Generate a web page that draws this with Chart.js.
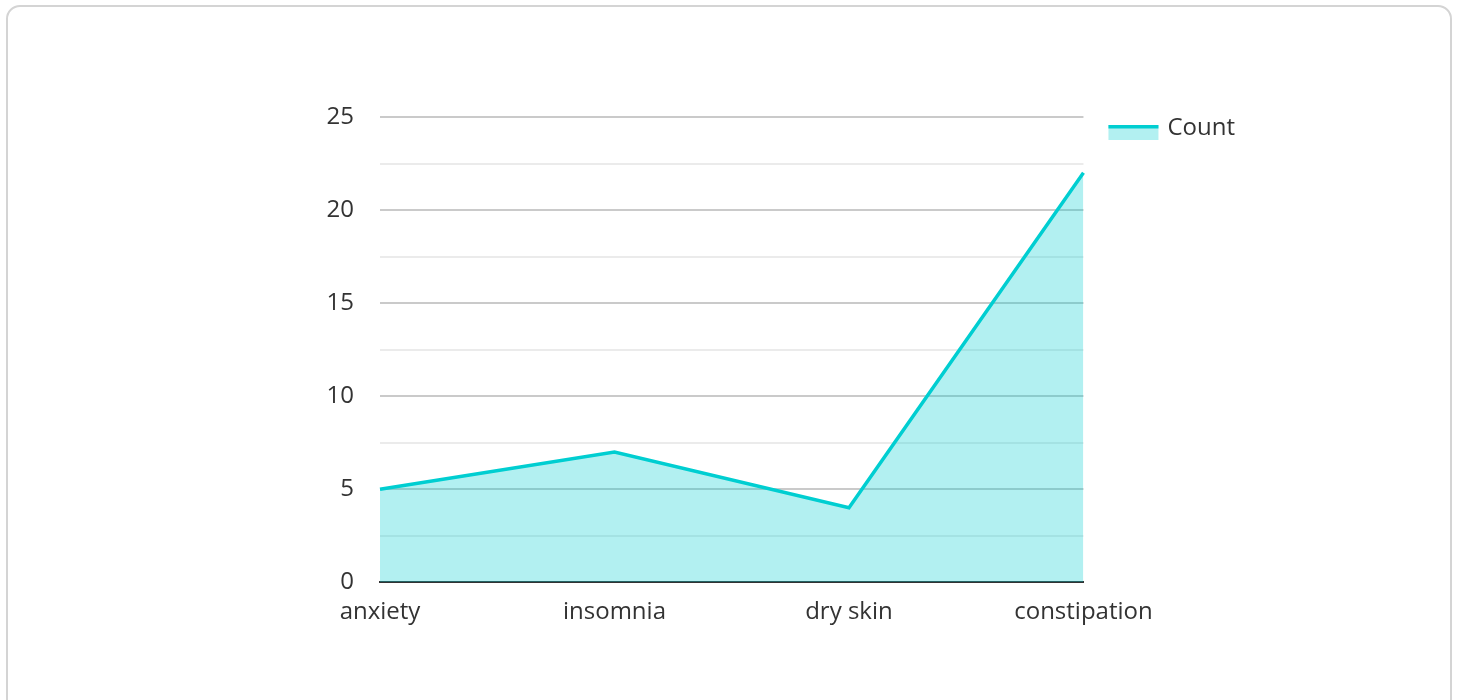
<!DOCTYPE html>
<html>
<head>
<meta charset="utf-8">
<script src="https://cdn.jsdelivr.net/npm/chart.js@4"></script>
<style>
  body { margin: 0; background: #fff; }
  .card {
    position: absolute; left: 6px; top: 5px; width: 1446px; height: 720px;
    border: 2px solid #d4d4d4; border-radius: 14px; box-sizing: border-box;
  }
  #wrap { position: absolute; left: 0; top: 0; width: 1458px; height: 700px; }
</style>
</head>
<body>
<div class="card"></div>
<div id="wrap"><canvas id="symptomChart"></canvas></div>
<script>
  const symptoms = ['anxiety', 'insomnia', 'dry skin', 'constipation'];
  const counts = [5, 7, 4, 22];

  const lineColor = 'rgb(0, 206, 209)';
  const fillColor = 'rgba(0, 206, 209, 0.3)';

  Chart.defaults.font.family = '"Open Sans", sans-serif';
  Chart.defaults.font.size = 24;
  Chart.defaults.color = '#333';

  // nudge the legend and draw its marker as a filled box with a line on top
  const legendTweak = {
    id: 'legendTweak',
    afterLayout(chart) {
      const lg = chart.legend;
      lg.left += 15; lg.right += 15;
      lg.top -= 11; lg.bottom -= 11;
    },
    afterDraw(chart) {
      const hb = chart.legend.legendHitBoxes[0];
      if (!hb) return;
      const c = chart.ctx;
      const top = hb.top + 9;
      c.save();
      c.fillStyle = fillColor;
      c.fillRect(hb.left, top, 50, 15);
      c.fillStyle = lineColor;
      c.fillRect(hb.left, top, 50, 3.5);
      c.restore();
    }
  };

  const ctx = document.getElementById('symptomChart').getContext('2d');

  new Chart(ctx, {
    type: 'line',
    data: {
      labels: symptoms,
      datasets: [{
        label: 'Count',
        data: counts,
        borderColor: lineColor,
        backgroundColor: fillColor,
        borderWidth: 3.5,
        fill: true,
        tension: 0,
        pointRadius: 0
      }]
    },
    options: {
      responsive: true,
      maintainAspectRatio: false,
      animation: false,
      layout: {
        padding: { left: 320, right: 228, top: 117, bottom: 57 }
      },
      plugins: {
        legend: {
          position: 'right',
          align: 'start',
          labels: {
            boxWidth: 47,
            boxHeight: 14,
            padding: 10,
            generateLabels: function (chart) {
              return chart.data.datasets.map(function (ds, i) {
                return {
                  text: ds.label,
                  fillStyle: 'rgba(0,0,0,0)',
                  strokeStyle: 'rgba(0,0,0,0)',
                  lineWidth: 0,
                  fontColor: '#333',
                  datasetIndex: i
                };
              });
            }
          }
        },
        tooltip: { enabled: false }
      },
      scales: {
        x: {
          offset: false,
          grid: { display: false, drawTicks: false },
          border: { color: '#333', width: 2 },
          ticks: { padding: 16, maxRotation: 0 }
        },
        y: {
          min: 0,
          max: 25,
          afterFit: function (scale) { scale.width = 60; },
          border: { display: false },
          grid: {
            drawTicks: false,
            lineWidth: 2,
            color: function (c) {
              return c.tick && c.tick.value % 5 === 0 ? '#cacaca' : '#ebebeb';
            }
          },
          ticks: {
            stepSize: 2.5,
            padding: 26,
            callback: function (v) { return v % 5 === 0 ? v : ''; }
          }
        }
      }
    },
    plugins: [legendTweak]
  });
</script>
</body>
</html>
